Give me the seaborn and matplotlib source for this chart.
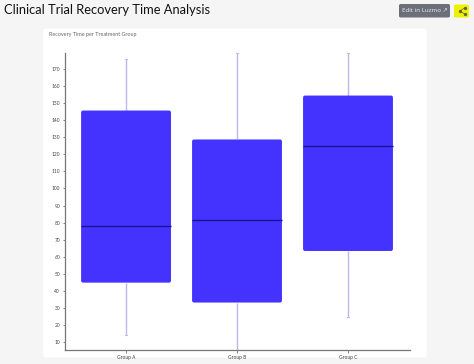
import matplotlib
matplotlib.use("Agg")
import matplotlib.pyplot as plt
from matplotlib.patches import FancyBboxPatch
from matplotlib.transforms import IdentityTransform
import pandas as pd
import seaborn as sns

groups = ["Group A", "Group B", "Group C"]
whisker_low = [14, 5.3, 24.7]
q1 = [44.7, 33, 63.3]
median = [77.8, 81.3, 125.2]
q3 = [145.8, 128.8, 154.6]
whisker_high = [176, 179.6, 179.6]
y_ticks = list(range(10, 180, 10))
title = "Clinical Trial Recovery Time Analysis"
subtitle = "Recovery Time per Treatment Group"

rows = []
for i, g in enumerate(groups):
    for v in (whisker_low[i], q1[i], median[i], q3[i], whisker_high[i]):
        rows.append({"group": g, "value": v})
df = pd.DataFrame(rows)

W, H = 474, 364
sns.set_theme(style="white")
plt.rcParams["font.family"] = ["Lato", "DejaVu Sans"]
fig = plt.figure(figsize=(W / 100, H / 100), dpi=100, facecolor="#f5f5f5")

# page card
fig.add_artist(FancyBboxPatch((45 / W, 1 - 356 / H), 380 / W, 326 / H,
                              boxstyle="round,pad=0.004,rounding_size=0.008",
                              transform=fig.transFigure, fc="white", ec="none", zorder=-5))

ax = fig.add_axes([65 / W, 1 - 349.7 / H, 344.7 / W, 296.7 / H])
ax.patch.set_alpha(0)
sns.boxplot(data=df, x="group", y="value", ax=ax, order=groups, whis=(0, 100), width=0.81,
            color="#4433ff", saturation=1, linewidth=1, fliersize=0,
            whiskerprops={"color": "#bdb8ec", "linewidth": 1.0},
            capprops={"color": "#bdb8ec", "linewidth": 0.8},
            medianprops={"color": "#1c0f90", "linewidth": 1, "solid_capstyle": "butt"},
            boxprops={"edgecolor": "#4433ff"},
            capwidths=0.025)
ax.set_xlim(-0.55, 2.556)
ax.set_ylim(5.3, 179.6)
ax.set_yticks(y_ticks)
ax.set_xlabel("")
ax.set_ylabel("")
ax.tick_params(axis="both", labelsize=3.5, length=1.8, width=0.5, color="#555555",
               labelcolor="#444444", pad=1.8, left=True, bottom=True)
sns.despine(ax=ax)
for s in ("left", "bottom"):
    ax.spines[s].set_color("#777777")
    ax.spines[s].set_linewidth(0.9)
for ln in ax.lines:
    ln.set_clip_on(False)

# rounded corners on the boxes, derived from the drawn boxes
fig.canvas.draw()
for p in list(ax.patches):
    bb = p.get_window_extent()
    ax.add_patch(FancyBboxPatch((bb.x0 + 2, bb.y0 + 2), bb.width - 4, bb.height - 4,
                                boxstyle="round,pad=2,rounding_size=2",
                                transform=IdentityTransform(), fc="#4433ff", ec="none", zorder=p.get_zorder()))
    p.set_visible(False)

fig.text(4 / W, 1 - 10.5 / H, title, fontsize=9.3, color="#111111", va="center", ha="left")
fig.text(49 / W, 1 - 34.7 / H, subtitle, fontsize=3.85, color="#666666", va="center", ha="left")

# header buttons
fig.add_artist(FancyBboxPatch((399 / W, 1 - 17.5 / H), 51 / W, 13.5 / H,
                              boxstyle="round,pad=0,rounding_size=0.004",
                              transform=fig.transFigure, fc="#6b6f78", ec="none"))
fig.text(424.5 / W, 1 - 11 / H, "Edit in Luzmo \u2197", fontsize=4.4, color="#e8e8e8", va="center", ha="center",
         family=["Noto Sans", "DejaVu Sans"])
fig.add_artist(FancyBboxPatch((454 / W, 1 - 17.5 / H), 15 / W, 13 / H,
                              boxstyle="round,pad=0,rounding_size=0.004",
                              transform=fig.transFigure, fc="#eef200", ec="none"))
sx = [464.5 / W, 460 / W, 464.5 / W]
sy = [1 - 8 / H, 1 - 11 / H, 1 - 14 / H]
fig.add_artist(plt.Line2D(sx, sy, transform=fig.transFigure, color="#666633", linewidth=0.5,
                          marker="o", markersize=1.4))

fig.savefig("out.png", dpi=100, facecolor=fig.get_facecolor())
